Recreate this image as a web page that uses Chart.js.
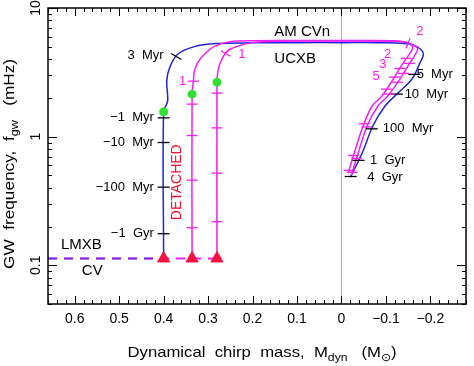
<!DOCTYPE html>
<html>
<head>
<meta charset="utf-8">
<script src="https://cdn.jsdelivr.net/npm/chart.js@4"></script>
<style>
  html, body { margin: 0; padding: 0; background: #fff; }
  #wrap { width: 474px; height: 366px; }
</style>
</head>
<body>
<div id="wrap"><canvas id="chart" width="474" height="366"></canvas></div>
<script>
// x: dynamical chirp mass (Msun, reversed), y: GW frequency (mHz, log)
const massTicks = [0.6, 0.5, 0.4, 0.3, 0.2, 0.1, 0, -0.1, -0.2];
const freqTicks = [0.1, 1, 10];

// LMXB -> UCXB track (blue)
const lmxbMass = [0.400, 0.400, 0.391, 0.393, 0.387, 0.369, 0.331, 0.280, 0.200, 0.100, 0.000, -0.080, -0.142, -0.169, -0.184, -0.176, -0.158, -0.127, -0.098, -0.071, -0.047, -0.020];
const lmxbFreq = [0.113, 1.56, 1.89, 2.70, 3.40, 4.35, 5.01, 5.29, 5.36, 5.38, 5.38, 5.38, 5.29, 5.01, 4.43, 3.71, 2.79, 2.18, 1.73, 1.22, 0.753, 0.484];

// CV -> AM CVn tracks (magenta)
const cvAMass = [0.336, 0.336, 0.333, 0.331, 0.324, 0.313, 0.287, 0.251, 0.191, 0.100, 0.000, -0.120, -0.147, -0.164, -0.171, -0.153, -0.131, -0.104, -0.082, -0.058, -0.036, -0.022];
const cvAFreq = [0.113, 2.14, 2.70, 3.22, 3.71, 4.20, 5.01, 5.47, 5.57, 5.58, 5.58, 5.57, 5.38, 5.10, 4.75, 3.71, 2.79, 2.07, 1.73, 1.22, 0.714, 0.50];
const cvBMass = [0.280, 0.280, 0.278, 0.273, 0.258, 0.236, 0.202, 0.147, 0.000, -0.109, -0.142, -0.156, -0.160, -0.138, -0.116, -0.091, -0.069, -0.049, -0.027, -0.015];
const cvBFreq = [0.113, 2.65, 3.22, 3.71, 4.58, 5.01, 5.38, 5.52, 5.53, 5.52, 5.43, 5.19, 4.84, 3.71, 2.79, 2.07, 1.73, 1.22, 0.714, 0.52];

// onset of mass transfer (green) and start of tracks (red triangles)
const rlofMass = [0.400, 0.336, 0.280];
const rlofFreq = [1.56, 2.14, 2.65];
const startMass = [0.400, 0.336, 0.280];
const startFreq = [0.113, 0.113, 0.113];

// dashed initial lines
const lmxbDashMass = [0.66, 0.40];
const cvDashMass = [0.66, 0.27];
const dashFreq = [0.113, 0.113];

const zeroMass = [0, 0];
const zeroFreq = [0.05, 10];

// time marks along tracks, given by frequency
const lmxbRiseMarks = [1.40, 0.90, 0.405, 0.176];
const lmxbFallMarks = [3.05, 2.14, 1.15, 0.654, 0.49];
const lmxbCrossMarks = [4.2];
const cvARiseMarks = [2.70, 1.79, 1.02, 0.459, 0.196];
const cvAFallMarks = [3.71, 3.10, 2.65, 2.14, 1.19, 0.677, 0.529];
const cvBRiseMarks = [2.18, 1.17, 0.52, 0.218];
const cvBFallMarks = [4.06, 3.39, 2.90, 2.34, 1.26, 0.714, 0.548];
const cvBCrossRise = [4.43];
const cvBCrossFall = [5.3];

const BLUE = '#2323d8';
const MAG = '#f21ef2';
const RED = '#f5123f';
const FONT = '"Liberation Sans", Arial, sans-serif';

const notes = [
  { t: 'AM CVn', m: 0.151, f: 6.54, a: 'left', c: '#000', s: 15 },
  { t: 'UCXB', m: 0.151, f: 4.05, a: 'left', c: '#000', s: 15 },
  { t: '3  Myr', m: 0.400, f: 4.25, a: 'right', c: '#000', s: 13 },
  { t: '\u22121  Myr', m: 0.422, f: 1.40, a: 'right', c: '#000', s: 13 },
  { t: '\u221210  Myr', m: 0.422, f: 0.90, a: 'right', c: '#000', s: 13 },
  { t: '\u2212100  Myr', m: 0.422, f: 0.405, a: 'right', c: '#000', s: 13 },
  { t: '\u22121  Gyr', m: 0.422, f: 0.176, a: 'right', c: '#000', s: 13 },
  { t: '5  Myr', m: -0.169, f: 3.05, a: 'left', c: '#000', s: 13 },
  { t: '10  Myr', m: -0.142, f: 2.14, a: 'left', c: '#000', s: 13 },
  { t: '100  Myr', m: -0.093, f: 1.15, a: 'left', c: '#000', s: 13 },
  { t: '1  Gyr', m: -0.064, f: 0.654, a: 'left', c: '#000', s: 13 },
  { t: '4  Gyr', m: -0.058, f: 0.484, a: 'left', c: '#000', s: 13 },
  { t: 'LMXB', m: 0.631, f: 0.145, a: 'left', c: '#000', s: 15 },
  { t: 'CV', m: 0.584, f: 0.090, a: 'left', c: '#000', s: 15 },
  { t: '1', m: 0.349, f: 2.70, a: 'right', c: MAG, s: 13 },
  { t: '1', m: 0.232, f: 4.35, a: 'left', c: MAG, s: 13 },
  { t: '2', m: -0.176, f: 6.54, a: 'center', c: MAG, s: 13 },
  { t: '2', m: -0.104, f: 4.35, a: 'center', c: MAG, s: 13 },
  { t: '3', m: -0.093, f: 3.64, a: 'center', c: MAG, s: 13 },
  { t: '5', m: -0.078, f: 2.95, a: 'center', c: MAG, s: 13 }
];

const pts = (ms, fs) => ms.map((m, i) => ({ x: m, y: fs[i] }));

const tracks = [
  { m: lmxbMass, f: lmxbFreq, color: '#000', rise: lmxbRiseMarks, fall: lmxbFallMarks, crossRise: lmxbCrossMarks, crossFall: [], len: 12 },
  { m: cvAMass, f: cvAFreq, color: MAG, rise: cvARiseMarks, fall: cvAFallMarks, crossRise: [], crossFall: [], len: 11 },
  { m: cvBMass, f: cvBFreq, color: MAG, rise: cvBRiseMarks, fall: cvBFallMarks, crossRise: cvBCrossRise, crossFall: cvBCrossFall, len: 11 }
];

function crossing(track, f, fromEnd, xs, ys) {
  const p = track.m.map((m, i) => ({ px: xs.getPixelForValue(m), py: ys.getPixelForValue(track.f[i]) }));
  const ty = ys.getPixelForValue(f);
  const n = p.length;
  for (let k = 0; k < n - 1; k++) {
    const i = fromEnd ? n - 2 - k : k;
    const a = p[i], b = p[i + 1];
    if ((a.py - ty) * (b.py - ty) <= 0 && a.py !== b.py) {
      const t = (ty - a.py) / (b.py - a.py);
      return { px: a.px + t * (b.px - a.px), py: ty, dx: b.px - a.px, dy: b.py - a.py };
    }
  }
  return null;
}

const overlay = {
  id: 'overlay',
  afterDatasetsDraw(chart) {
    const { ctx, scales: { x, y } } = chart;
    ctx.save();
    ctx.lineWidth = 1.3;
    tracks.forEach(tr => {
      ctx.strokeStyle = tr.color;
      const h = tr.len / 2;
      const flat = (list, fromEnd) => list.forEach(f => {
        const c = crossing(tr, f, fromEnd, x, y);
        if (!c) return;
        ctx.beginPath();
        ctx.moveTo(c.px - h, c.py);
        ctx.lineTo(c.px + h, c.py);
        ctx.stroke();
      });
      const perp = (list, fromEnd) => list.forEach(f => {
        const c = crossing(tr, f, fromEnd, x, y);
        if (!c) return;
        const l = Math.hypot(c.dx, c.dy);
        const ux = -c.dy / l * h, uy = c.dx / l * h;
        ctx.beginPath();
        ctx.moveTo(c.px - ux, c.py - uy);
        ctx.lineTo(c.px + ux, c.py + uy);
        ctx.stroke();
      });
      flat(tr.rise, false);
      flat(tr.fall, true);
      perp(tr.crossRise, false);
      perp(tr.crossFall, true);
    });

    ctx.textBaseline = 'middle';
    notes.forEach(n => {
      ctx.font = n.s + 'px ' + FONT;
      ctx.fillStyle = n.c;
      ctx.textAlign = n.a;
      ctx.fillText(n.t, x.getPixelForValue(n.m), y.getPixelForValue(n.f));
    });

    // DETACHED label
    ctx.save();
    ctx.translate(x.getPixelForValue(0.369), y.getPixelForValue(0.442));
    ctx.rotate(-Math.PI / 2);
    ctx.font = '14px ' + FONT;
    ctx.fillStyle = '#ff0a2a';
    ctx.textAlign = 'center';
    ctx.fillText('DETACHED', 0, 0);
    ctx.restore();
    ctx.restore();
  },
  afterDraw(chart) {
    const { ctx, chartArea: a, scales: { x, y } } = chart;
    ctx.save();
    ctx.strokeStyle = '#000';
    ctx.lineWidth = 1.5;
    ctx.strokeRect(a.left, a.top, a.right - a.left, a.bottom - a.top);
    ctx.lineWidth = 1;
    // x ticks, inward on bottom and top
    for (let k = -14; k <= 33; k++) {
      const px = Math.round(x.getPixelForValue(k * 0.02)) + 0.5;
      const len = k % 5 === 0 ? 8 : 4;
      ctx.beginPath();
      ctx.moveTo(px, a.bottom); ctx.lineTo(px, a.bottom - len);
      ctx.moveTo(px, a.top); ctx.lineTo(px, a.top + len);
      ctx.stroke();
    }
    // y ticks, log minor
    [0.01, 0.1, 1].forEach(d => {
      for (let k = 1; k <= 9; k++) {
        const v = k * d;
        if (v < 0.05 - 1e-9 || v > 10 + 1e-9) continue;
        const py = Math.round(y.getPixelForValue(v)) + 0.5;
        const len = k === 1 ? 9 : 4;
        ctx.beginPath();
        ctx.moveTo(a.left, py); ctx.lineTo(a.left + len, py);
        ctx.moveTo(a.right, py); ctx.lineTo(a.right - len, py);
        ctx.stroke();
      }
    });
    {
      const py = Math.round(y.getPixelForValue(10)) + 0.5;
      ctx.beginPath();
      ctx.moveTo(a.left, py); ctx.lineTo(a.left + 9, py);
      ctx.moveTo(a.right, py); ctx.lineTo(a.right - 9, py);
      ctx.stroke();
    }
    // y tick labels, rotated
    ctx.fillStyle = '#000';
    ctx.font = '14px ' + FONT;
    ctx.textAlign = 'center';
    ctx.textBaseline = 'middle';
    freqTicks.forEach(v => {
      ctx.save();
      ctx.translate(36, y.getPixelForValue(v));
      ctx.rotate(-Math.PI / 2);
      ctx.fillText(String(v), 0, 0);
      ctx.restore();
    });
    // axis titles with subscripts
    const titled = (parts, cx, cy, span, rot) => {
      ctx.save();
      ctx.translate(cx, cy);
      if (rot) ctx.rotate(-Math.PI / 2);
      let w = 0;
      parts.forEach(p => { ctx.font = p[1] + 'px ' + FONT; w += ctx.measureText(p[0]).width; });
      ctx.scale(span / w, 1);
      ctx.textAlign = 'left';
      ctx.textBaseline = 'alphabetic';
      let cur = -w / 2;
      parts.forEach(p => {
        ctx.font = p[1] + 'px ' + FONT;
        ctx.fillText(p[0], cur, p[2]);
        cur += ctx.measureText(p[0]).width;
      });
      ctx.restore();
    };
    titled([['Dynamical  chirp  mass,  M', 15, 5], ['dyn', 11, 9], ['   (M', 15, 5], ['\u2299', 11, 9], [')', 15, 5]], 262, 352, 269, false);
    titled([['GW  frequency,  f', 15, 5], ['gw', 11, 9], ['   (mHz)', 15, 5]], 9, 164, 210, true);
    ctx.restore();
  }
};

new Chart(document.getElementById('chart'), {
  type: 'line',
  data: {
    datasets: [
      { data: pts(startMass, startFreq), showLine: false, pointStyle: 'triangle', pointRadius: 7, backgroundColor: RED, borderColor: RED, borderWidth: 1 },
      { data: pts(rlofMass, rlofFreq), showLine: false, pointStyle: 'circle', pointRadius: 4.5, backgroundColor: '#33e033', borderColor: '#33e033', borderWidth: 0 },
      { data: pts(lmxbDashMass, dashFreq), borderColor: 'rgba(60,40,230,0.65)', borderWidth: 2, borderDash: [9, 7], pointRadius: 0 },
      { data: pts(cvDashMass, dashFreq), borderColor: MAG, borderWidth: 2, borderDash: [9, 7], pointRadius: 0 },
      { data: pts(cvAMass, cvAFreq), borderColor: MAG, borderWidth: 1.5, pointRadius: 0, tension: 0.35 },
      { data: pts(cvBMass, cvBFreq), borderColor: MAG, borderWidth: 1.5, pointRadius: 0, tension: 0.35 },
      { data: pts(lmxbMass, lmxbFreq), borderColor: BLUE, borderWidth: 1.5, pointRadius: 0, tension: 0.35 },
      { data: pts(zeroMass, zeroFreq), borderColor: '#b4b4b4', borderWidth: 1.2, pointRadius: 0 }
    ]
  },
  options: {
    responsive: false,
    animation: false,
    devicePixelRatio: 1,
    layout: { padding: { top: 8, right: 1, left: 0, bottom: 0 } },
    plugins: { legend: { display: false }, tooltip: { enabled: false } },
    scales: {
      x: {
        type: 'linear',
        reverse: true,
        min: -0.28,
        max: 0.66,
        afterFit: s => { s.height = 62; },
        grid: { display: false, drawTicks: false },
        border: { display: false },
        ticks: {
          stepSize: 0.02,
          autoSkip: false,
          maxRotation: 0,
          padding: 7,
          color: '#000',
          font: { family: FONT, size: 14 },
          callback: v => {
            const r = Math.round(v * 10);
            if (Math.abs(v * 10 - r) > 1e-6) return '';
            if (r === 0) return '0';
            return (r < 0 ? '\u2212' : '') + (Math.abs(r) / 10).toFixed(1);
          }
        }
      },
      y: {
        type: 'logarithmic',
        min: 0.05,
        max: 10,
        afterFit: s => { s.width = 48; },
        grid: { display: false, drawTicks: false },
        border: { display: false },
        ticks: { display: false }
      }
    }
  },
  plugins: [overlay]
});
</script>
</body>
</html>
